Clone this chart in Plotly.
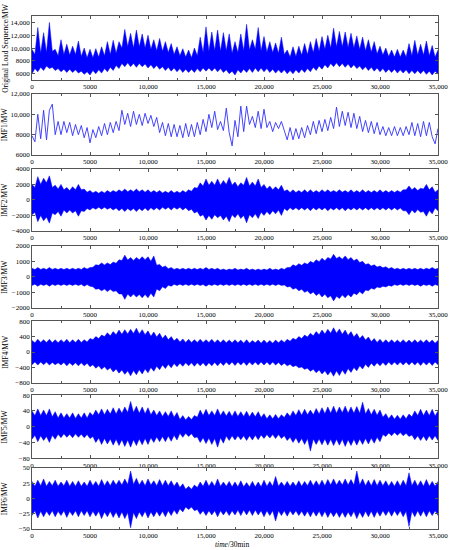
import plotly.graph_objects as go
from plotly.subplots import make_subplots

# x grids (samples, 30 min steps)
x_env = list(range(0, 35001, 250))
x_imf1 = list(range(0, 35001, 250))

# original load: spike tops / bottoms at 0, 500, ... and the dense core edge
# between them at 250, 750, ... (MW)
orig_hi = [9800, 13200, 12400, 14000, 9800, 11300, 10600, 10300, 11100, 10000,
           9800, 9900, 10200, 11000, 11200, 11000, 12900, 12300, 12800, 12200,
           12000, 11300, 11500, 11000, 10700, 10200, 9900, 9700, 10000, 11700,
           13300, 12500, 12800, 12400, 12200, 11000, 12200, 13700, 11300, 13200,
           11800, 11000, 10800, 11700, 9700, 10200, 10300, 10700, 11000, 11500,
           11800, 12000, 13100, 12600, 12500, 12300, 11900, 11700, 11300, 11000,
           10300, 10000, 9700, 9800, 9700, 10700, 11200, 10600, 11100, 10400,
           9700]
orig_hi_mid = [9000, 9200, 9300, 9500, 8800, 9000, 8900, 9000, 8700, 8500,
               8500, 8600, 8800, 9000, 9200, 10000, 10200, 10000, 10200, 10000,
               9800, 9600, 9500, 9300, 9000, 8800, 8600, 8500, 8800, 9300,
               9500, 9600, 9500, 9600, 9200, 9300, 9600, 9700, 9800, 9600,
               9400, 9300, 9200, 9000, 8600, 8700, 8900, 9000, 9300, 9500,
               9800, 10000, 10200, 10200, 10100, 10000, 9800, 9600, 9400, 9100,
               8900, 8700, 8600, 8600, 8600, 8800, 8900, 8900, 8800, 8600]
orig_lo = [6000, 6300, 6500, 6800, 6500, 6300, 6200, 6200, 6100, 5900,
           5800, 6000, 6100, 6300, 6500, 6800, 7100, 7100, 7000, 7100,
           6900, 6800, 6700, 6500, 6400, 6300, 6200, 6200, 6200, 6300,
           6400, 6400, 6300, 6200, 6000, 5800, 6100, 6200, 6200, 6300,
           6300, 6200, 6100, 6100, 6000, 6000, 6100, 6200, 6300, 6500,
           6700, 6900, 7100, 7100, 7000, 6900, 6800, 6600, 6500, 6400,
           6300, 6200, 6200, 6100, 6100, 6000, 6000, 6000, 5900, 5800,
           5900]
orig_lo_mid = [6800, 7000, 7200, 7000, 6800, 6700, 6700, 6600, 6400, 6300,
               6500, 6600, 6800, 7000, 7300, 7600, 7700, 7600, 7600, 7500,
               7400, 7300, 7100, 7000, 6900, 6800, 6700, 6700, 6800, 6900,
               6900, 6900, 6800, 6600, 6400, 6600, 6700, 6800, 6900, 6900,
               6800, 6700, 6600, 6600, 6500, 6600, 6700, 6800, 7000, 7200,
               7400, 7600, 7700, 7600, 7500, 7400, 7200, 7100, 7000, 6900,
               6800, 6700, 6700, 6600, 6600, 6500, 6500, 6500, 6400, 6400]

# IMF1 line (MW)
imf1 = [7900, 7300, 10000, 7600, 10400, 7500, 10400, 11000, 8000, 9300,
        8000, 9300, 8200, 9200, 7900, 9000, 8000, 8900, 7700, 8700,
        7200, 8500, 7700, 8800, 7900, 9100, 8000, 9200, 8200, 9300,
        8400, 10400, 9000, 10100, 8800, 10300, 9000, 10000, 8900, 10100,
        9100, 9900, 8800, 9700, 8200, 9200, 7900, 9100, 7800, 9000,
        7800, 8900, 7700, 9100, 7800, 9000, 7800, 9200, 8000, 9500,
        8300, 10000, 8700, 10300, 8500, 9300, 8400, 10600, 8200, 6900,
        9400, 7800, 10800, 8300, 10800, 9000, 9800, 8700, 10300, 8600,
        10500, 8700, 9300, 8300, 9200, 8600, 9300, 8400, 7500, 8700,
        7500, 8600, 7600, 8700, 7700, 8900, 8000, 9300, 8100, 9400,
        8300, 9500, 8400, 9700, 8600, 10700, 8800, 10300, 8900, 10200,
        8700, 10100, 8600, 9800, 8300, 9400, 8200, 9300, 8100, 9200,
        8000, 8800, 7900, 8700, 7900, 8800, 7900, 8700, 7900, 8800,
        8000, 9200, 7900, 9100, 7800, 9300, 7900, 9200, 7800, 7100,
        8600]

imf2_hi = [2000, 3000, 2800, 3100, 1900, 2000, 1600, 1700, 2000, 1400,
           1200, 1100, 1100, 1200, 1200, 1300, 1400, 1300, 1400, 1300,
           1300, 1200, 1200, 1100, 1200, 1100, 1200, 1300, 1600, 2200,
           2700, 2400, 2700, 2500, 2900, 2300, 2200, 2900, 2300, 2700,
           2000, 1800, 1700, 1900, 1300, 1300, 1200, 1300, 1300, 1200,
           1300, 1300, 1200, 1300, 1200, 1300, 1200, 1300, 1200, 1200,
           1300, 1200, 1200, 1200, 1300, 1800, 1600, 1500, 2000, 1700,
           1300]
imf2_hi_mid = [1600, 2000, 2200, 1600, 1400, 1300, 1200, 1300, 1300, 1000,
               900, 850, 900, 950, 1000, 1050, 1050, 1050, 1050, 1000,
               950, 950, 900, 900, 900, 900, 950, 1100, 1500, 1800,
               1900, 1900, 1900, 2000, 1900, 1700, 1900, 1800, 1800, 1600,
               1400, 1300, 1300, 1100, 950, 950, 950, 950, 950, 950,
               1000, 1000, 1000, 1000, 950, 950, 950, 950, 950, 950,
               950, 950, 950, 1000, 1300, 1300, 1200, 1400, 1300, 1000]
imf2_lo = [-1900, -2800, -2700, -3000, -1900, -2100, -1700, -1700, -2100, -1500,
           -1300, -1200, -1200, -1200, -1300, -1400, -1500, -1400, -1500, -1400,
           -1400, -1300, -1300, -1200, -1300, -1200, -1300, -1400, -1700, -2100,
           -2600, -2500, -2300, -2600, -2800, -2300, -2400, -2950, -2300, -2400,
           -2000, -1900, -1800, -2000, -1400, -1300, -1300, -1300, -1400, -1300,
           -1300, -1400, -1300, -1300, -1400, -1300, -1300, -1300, -1300, -1300,
           -1300, -1300, -1300, -1300, -1400, -1900, -1700, -1600, -2100, -1800,
           -1400]
imf2_lo_mid = [-1600, -2000, -2200, -1700, -1500, -1300, -1300, -1400, -1400, -1100,
               -1000, -950, -950, -1000, -1050, -1100, -1100, -1100, -1100, -1050,
               -1000, -1000, -950, -950, -950, -950, -1000, -1200, -1500, -1900,
               -2000, -1900, -2000, -2100, -1900, -1800, -2000, -1900, -1800, -1600,
               -1500, -1400, -1300, -1100, -1000, -1000, -1000, -1000, -1000, -1000,
               -1000, -1050, -1000, -1000, -1050, -1000, -1000, -1000, -1000, -1000,
               -1000, -1000, -1000, -1050, -1400, -1300, -1250, -1500, -1350, -1050]

imf3_hi = [550, 600, 550, 600, 550, 550, 550, 550, 550, 600,
           600, 780, 900, 900, 950, 1100, 1400, 1250, 1250, 1300,
           1300, 1350, 800, 700, 600, 550, 550, 550, 550, 550,
           600, 550, 550, 500, 500, 550, 500, 550, 500, 500,
           500, 550, 500, 550, 600, 780, 850, 900, 1000, 1100,
           1200, 1250, 1450, 1300, 1350, 1250, 1150, 1000, 850, 780,
           700, 650, 600, 550, 550, 550, 550, 550, 550, 600,
           550]
imf3_hi_mid = [470, 480, 470, 480, 470, 470, 470, 470, 480, 500,
               620, 740, 770, 790, 880, 1050, 1080, 1060, 1100, 1110,
               1000, 750, 620, 530, 480, 470, 470, 470, 470, 480,
               480, 470, 440, 430, 450, 440, 450, 440, 430, 430,
               440, 440, 440, 480, 600, 690, 740, 810, 890, 980,
               1040, 1150, 1180, 1140, 1110, 1040, 920, 800, 700, 630,
               580, 530, 490, 470, 470, 470, 470, 470, 490, 490]
imf3_lo = [-550, -600, -550, -600, -550, -550, -550, -550, -550, -600,
           -600, -800, -900, -950, -950, -1100, -1450, -1300, -1300, -1350,
           -1350, -1300, -900, -750, -600, -550, -550, -550, -550, -550,
           -600, -550, -550, -550, -550, -550, -550, -550, -550, -550,
           -550, -550, -550, -550, -650, -800, -900, -1000, -1100, -1200,
           -1300, -1350, -1550, -1400, -1350, -1300, -1150, -1100, -900, -800,
           -700, -650, -600, -550, -550, -550, -550, -600, -550, -600,
           -550]
imf3_lo_mid = [-470, -480, -470, -480, -470, -470, -470, -470, -480, -500,
               -640, -760, -790, -800, -900, -1100, -1110, -1110, -1130, -1130,
               -1050, -780, -640, -540, -480, -470, -470, -470, -470, -490,
               -490, -470, -470, -470, -470, -470, -470, -470, -470, -470,
               -470, -470, -470, -520, -620, -720, -800, -900, -980, -1060,
               -1120, -1220, -1250, -1170, -1130, -1050, -950, -850, -730, -650,
               -600, -550, -500, -470, -470, -470, -490, -490, -490, -500]

imf4_hi = [300, 330, 320, 330, 320, 320, 330, 320, 330, 320,
           350, 400, 440, 500, 530, 570, 580, 590, 620, 580,
           550, 520, 490, 440, 400, 360, 340, 330, 320, 330,
           320, 330, 320, 320, 310, 320, 310, 320, 300, 310,
           310, 300, 310, 310, 330, 360, 400, 440, 490, 530,
           570, 590, 630, 600, 570, 530, 480, 430, 390, 350,
           330, 320, 320, 310, 320, 310, 320, 310, 320, 310,
           300]
imf4_hi_mid = [240, 250, 250, 240, 240, 250, 240, 250, 250, 260,
               320, 350, 400, 420, 450, 460, 470, 480, 470, 450,
               410, 390, 350, 320, 290, 260, 250, 250, 250, 250,
               250, 240, 240, 240, 240, 240, 230, 230, 240, 230,
               230, 230, 240, 250, 280, 320, 350, 390, 420, 450,
               470, 490, 490, 460, 430, 390, 350, 310, 270, 250,
               240, 240, 240, 240, 240, 240, 240, 240, 240, 230]
imf4_lo = [-330, -340, -330, -340, -330, -340, -360, -350, -360, -360,
           -380, -420, -450, -470, -520, -550, -580, -620, -590, -570,
           -540, -500, -460, -430, -410, -380, -370, -360, -370, -360,
           -370, -360, -360, -350, -340, -350, -340, -350, -340, -340,
           -340, -340, -340, -350, -360, -380, -410, -450, -500, -540,
           -570, -600, -630, -610, -580, -530, -490, -440, -400, -370,
           -360, -350, -340, -340, -340, -340, -340, -350, -340, -350,
           -330]
imf4_lo_mid = [-260, -260, -260, -270, -280, -270, -280, -280, -280, -290,
               -330, -360, -380, -410, -440, -470, -490, -480, -460, -440,
               -400, -370, -340, -320, -300, -290, -280, -280, -280, -280,
               -280, -270, -270, -260, -260, -260, -260, -260, -260, -260,
               -260, -260, -270, -290, -320, -350, -390, -420, -450, -470,
               -490, -500, -490, -470, -430, -400, -360, -320, -290, -280,
               -270, -260, -260, -260, -260, -260, -260, -260, -260, -260]

imf5_hi = [40, 45, 42, 45, 38, 35, 33, 35, 33, 35,
           36, 42, 45, 44, 48, 47, 50, 64, 52, 50,
           48, 42, 40, 38, 40, 36, 28, 26, 28, 42,
           44, 40, 45, 40, 39, 40, 38, 39, 37, 38,
           33, 30, 31, 30, 35, 40, 43, 44, 42, 46,
           48, 50, 52, 50, 52, 50, 51, 62, 46, 44,
           42, 33, 30, 29, 30, 32, 40, 44, 42, 44,
           40]
imf5_hi_mid = [28, 28, 28, 25, 22, 22, 22, 21, 22, 22,
               28, 30, 30, 32, 32, 34, 36, 36, 34, 33,
               30, 28, 26, 26, 24, 18, 17, 18, 24, 28,
               28, 28, 28, 27, 26, 26, 26, 25, 25, 23,
               20, 20, 20, 23, 26, 28, 29, 30, 30, 32,
               33, 34, 34, 35, 34, 34, 34, 32, 30, 29,
               24, 20, 19, 19, 20, 25, 28, 28, 28, 27]
imf5_lo = [-32, -38, -35, -40, -32, -28, -27, -28, -27, -28,
           -30, -40, -45, -44, -47, -48, -50, -52, -48, -46,
           -45, -40, -38, -38, -37, -34, -27, -25, -28, -40,
           -43, -45, -52, -42, -35, -34, -33, -35, -34, -33,
           -30, -29, -30, -30, -35, -40, -42, -45, -62, -45,
           -46, -47, -48, -47, -50, -48, -47, -45, -44, -42,
           -38, -25, -23, -22, -23, -25, -33, -35, -36, -34,
           -35]
imf5_lo_mid = [-22, -23, -25, -22, -19, -18, -19, -18, -19, -20,
               -25, -29, -30, -31, -32, -33, -34, -33, -31, -30,
               -28, -26, -25, -24, -22, -17, -17, -18, -26, -28,
               -29, -30, -28, -24, -23, -23, -23, -23, -22, -21,
               -20, -20, -20, -23, -27, -28, -30, -30, -31, -31,
               -31, -32, -32, -32, -33, -32, -31, -30, -29, -27,
               -20, -16, -15, -15, -17, -21, -23, -24, -23, -23]

imf6_hi = [28, 30, 32, 28, 30, 27, 30, 28, 29, 27,
           30, 28, 31, 29, 30, 30, 32, 45, 33, 30,
           32, 29, 31, 30, 29, 27, 24, 20, 22, 27,
           30, 28, 32, 27, 28, 27, 29, 26, 28, 27,
           30, 28, 36, 27, 28, 27, 29, 28, 30, 29,
           30, 31, 32, 30, 32, 31, 45, 32, 30, 31,
           30, 29, 28, 29, 30, 42, 30, 29, 31, 28,
           28]
imf6_hi_mid = [20, 21, 20, 21, 20, 21, 20, 20, 20, 20,
               21, 20, 21, 21, 22, 22, 23, 23, 22, 21,
               22, 21, 21, 21, 20, 18, 15, 15, 18, 20,
               20, 20, 20, 20, 19, 19, 19, 19, 19, 19,
               20, 20, 20, 20, 20, 20, 20, 21, 21, 21,
               21, 22, 22, 22, 22, 22, 22, 21, 21, 21,
               21, 20, 20, 20, 21, 21, 20, 20, 20, 20]
imf6_lo = [-28, -32, -30, -28, -30, -28, -31, -28, -30, -28,
           -30, -29, -33, -30, -31, -32, -33, -48, -33, -30,
           -32, -30, -29, -30, -28, -26, -22, -18, -20, -26,
           -28, -27, -30, -27, -28, -27, -28, -27, -28, -27,
           -30, -28, -37, -28, -29, -27, -28, -29, -30, -29,
           -30, -31, -30, -31, -31, -30, -33, -31, -30, -31,
           -29, -28, -29, -28, -30, -46, -30, -29, -30, -28,
           -28]
imf6_lo_mid = [-20, -21, -21, -20, -21, -20, -21, -20, -20, -20,
               -21, -21, -22, -21, -22, -22, -23, -23, -22, -21,
               -22, -21, -21, -20, -19, -17, -14, -14, -18, -20,
               -20, -20, -20, -20, -20, -19, -19, -19, -19, -20,
               -20, -20, -20, -20, -20, -20, -21, -21, -21, -21,
               -21, -22, -22, -22, -22, -21, -22, -21, -21, -21,
               -20, -20, -20, -20, -21, -21, -20, -20, -20, -20]

x_ticks = [0, 5000, 10000, 15000, 20000, 25000, 30000, 35000]
x_labels = ['0', '5000', '10,000', '15,000', '20,000', '25,000', '30,000', '35,000']

titles = ['Original Load Sequence/MW', 'IMF1/MW', 'IMF2/MW', 'IMF3/MW',
          'IMF4/MW', 'IMF5/MW', 'IMF6/MW']
y_ranges = [[5000, 15000], [6000, 12000], [-4000, 4000], [-2000, 2000],
            [-800, 800], [-80, 80], [-50, 50]]
y_ticks = [[6000, 8000, 10000, 12000, 14000],
           [6000, 8000, 10000, 12000],
           [-4000, -2000, 0, 2000, 4000],
           [-2000, -1000, 0, 1000, 2000],
           [-800, -400, 0, 400, 800],
           [-80, -40, 0, 40, 80],
           [-50, -25, 0, 25, 50]]
y_labels = [['6000', '8000', '10,000', '12,000', '14,000'],
            ['6000', '8000', '10,000', '12,000'],
            ['\u22124000', '\u22122000', '0', '2000', '4000'],
            ['\u22122000', '\u22121000', '0', '1000', '2000'],
            ['\u2212800', '\u2212400', '0', '400', '800'],
            ['\u221280', '\u221240', '0', '40', '80'],
            ['\u221250', '\u221225', '0', '25', '50']]


def weave(peaks, mids):
    # spike value, then core value half a step later, and so on
    out = []
    for i, p in enumerate(peaks):
        out.append(p)
        if i < len(mids):
            out.append(mids[i])
    return out


bands = [(weave(orig_lo, orig_lo_mid), weave(orig_hi, orig_hi_mid)),
         None,
         (weave(imf2_lo, imf2_lo_mid), weave(imf2_hi, imf2_hi_mid)),
         (weave(imf3_lo, imf3_lo_mid), weave(imf3_hi, imf3_hi_mid)),
         (weave(imf4_lo, imf4_lo_mid), weave(imf4_hi, imf4_hi_mid)),
         (weave(imf5_lo, imf5_lo_mid), weave(imf5_hi, imf5_hi_mid)),
         (weave(imf6_lo, imf6_lo_mid), weave(imf6_hi, imf6_hi_mid))]

domains = [[0.875, 1.0], [0.729, 0.848], [0.581, 0.702], [0.431, 0.552],
           [0.285, 0.405], [0.138, 0.261], [0.0, 0.119]]

BLUE = '#0000ff'
FONT = 'Liberation Serif'

fig = make_subplots(rows=7, cols=1)

for i in range(7):
    if bands[i] is None:
        fig.add_trace(go.Scatter(x=x_imf1, y=imf1, mode='lines',
                                 line=dict(color='#3030ff', width=0.9)),
                      row=i + 1, col=1)
    else:
        lo, hi = bands[i]
        fig.add_trace(go.Scatter(x=x_env, y=lo, mode='lines',
                                 line=dict(color=BLUE, width=0.5)),
                      row=i + 1, col=1)
        fig.add_trace(go.Scatter(x=x_env, y=hi, mode='lines', fill='tonexty',
                                 fillcolor=BLUE,
                                 line=dict(color=BLUE, width=0.5)),
                      row=i + 1, col=1)

axis_style = dict(showgrid=False, zeroline=False, showline=True,
                  linecolor='#555555', linewidth=0.8, mirror='ticks',
                  ticks='inside', ticklen=3, tickcolor='#555555',
                  automargin=False,
                  tickfont=dict(family=FONT, size=7, color='black'))

annotations = []
for i in range(7):
    n = '' if i == 0 else str(i + 1)
    fig.layout['xaxis' + n].update(
        range=[0, 35000], tickmode='array', tickvals=x_ticks, ticktext=x_labels,
        minor=dict(tickvals=list(range(2500, 35000, 5000)), ticks='inside',
                   ticklen=2, tickcolor='#555555'),
        **axis_style)
    fig.layout['yaxis' + n].update(
        range=y_ranges[i], tickmode='array', tickvals=y_ticks[i],
        ticktext=y_labels[i], domain=domains[i], **axis_style)
    annotations.append(dict(text=titles[i], x=-0.067, y=sum(domains[i]) / 2,
                            xref='paper', yref='paper', textangle=-90,
                            showarrow=False, xanchor='center', yanchor='middle',
                            font=dict(family=FONT, size=7.5, color='black')))

annotations.append(dict(text='<i>time</i>/30min', x=0.493, y=-0.031,
                        xref='paper', yref='paper', showarrow=False,
                        xanchor='center', yanchor='middle',
                        font=dict(family=FONT, size=7.5, color='black')))

fig.update_layout(
    width=450, height=550,
    margin=dict(l=32, r=12, t=16, b=21),
    showlegend=False,
    template='none',
    paper_bgcolor='white',
    plot_bgcolor='white',
    annotations=annotations,
)

# the page's default 8px body margin would push the figure off the window
fig.write_html('out.html', config={'displayModeBar': False},
               post_script="document.body.style.margin = '0';")
